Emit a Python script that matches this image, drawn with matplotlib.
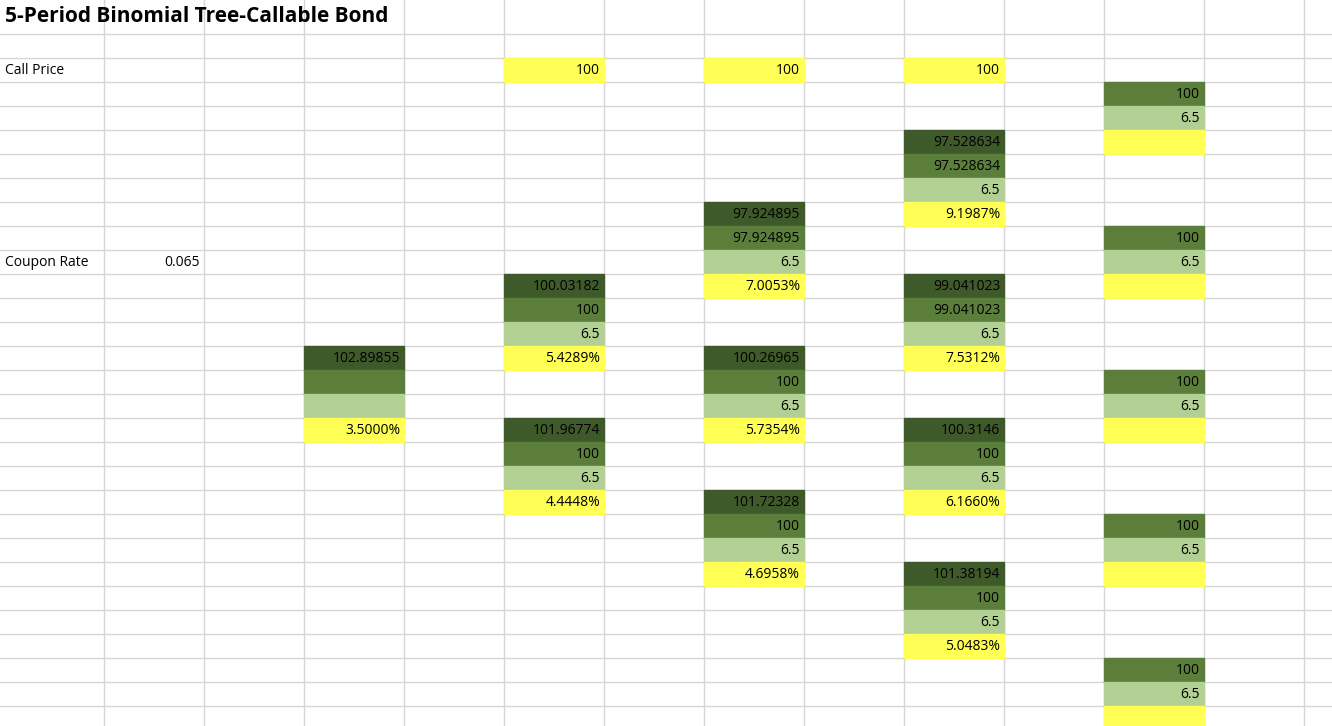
import matplotlib
matplotlib.use("Agg")
import matplotlib.pyplot as plt
from matplotlib.patches import Rectangle

title = "5-Period Binomial Tree-Callable Bond"
call_price = 100
coupon_rate = 0.065
coupon = 6.5

# tree nodes: spreadsheet column, first row, value, callable value, rate
node_cols = [3, 5, 5, 7, 7, 7, 9, 9, 9, 9]
node_rows = [13, 10, 16, 7, 13, 19, 4, 10, 16, 22]
node_values = ["102.89855", "100.03182", "101.96774", "97.924895", "100.26965",
               "101.72328", "97.528634", "99.041023", "100.3146", "101.38194"]
node_called = ["", "100", "100", "97.924895", "100", "100",
               "97.528634", "99.041023", "100", "100"]
node_coupons = ["", "6.5", "6.5", "6.5", "6.5", "6.5", "6.5", "6.5", "6.5", "6.5"]
node_rates = ["3.5000%", "5.4289%", "4.4448%", "7.0053%", "5.7354%", "4.6958%",
              "9.1987%", "7.5312%", "6.1660%", "5.0483%"]
# terminal nodes (column 11)
final_rows = [2, 8, 14, 20, 26]
call_cols = [5, 7, 9]

DARK, MED, LIGHT, YEL = "#3f5a2a", "#5b7f3b", "#b2cf94", "#ffff55"
X0, CW, Y0, RH = 104, 100, 34, 24

fig = plt.figure(figsize=(13.32, 7.26), dpi=100)
ax = fig.add_axes([0, 0, 1, 1])
ax.set_xlim(0, 1332)
ax.set_ylim(726, 0)
ax.axis("off")

def cx(c):
    return X0 + (c - 1) * CW

def cy(r):
    return Y0 + r * RH

def cell(c, r, color, text=""):
    ax.add_patch(Rectangle((cx(c), cy(r)), CW, RH, color=color, zorder=2))
    if text:
        ax.text(cx(c) + CW - 4, cy(r) + RH / 2 + 1, text, ha="right", va="center",
                fontsize=10, family="Open Sans", zorder=3)

# grid
for i in range(13):
    ax.plot([X0 + i * CW] * 2, [0, 726], color="#d6d6d6", lw=1, zorder=1)
for r in range(29):
    ax.plot([0, 1332], [cy(r)] * 2, color="#d6d6d6", lw=1, zorder=1)

ax.text(5, 17, title, fontsize=15, fontweight="bold", va="center", family="Open Sans")
ax.text(5, cy(1) + 12, "Call Price", fontsize=10, va="center", family="Open Sans")
ax.text(5, cy(9) + 12, "Coupon Rate", fontsize=10, va="center", family="Open Sans")
ax.text(cx(1) + CW - 4, cy(9) + 12, str(coupon_rate), fontsize=10, ha="right",
        va="center", family="Open Sans")

for c in call_cols:
    cell(c, 1, YEL, str(call_price))

for c, r, v, cv, cp, rt in zip(node_cols, node_rows, node_values, node_called,
                               node_coupons, node_rates):
    cell(c, r, DARK, v)
    cell(c, r + 1, MED, cv)
    cell(c, r + 2, LIGHT, cp)
    cell(c, r + 3, YEL, rt)

for r in final_rows:
    cell(11, r, MED, str(call_price))
    cell(11, r + 1, LIGHT, str(coupon))
    cell(11, r + 2, YEL)

fig.savefig("out.png", dpi=100)
